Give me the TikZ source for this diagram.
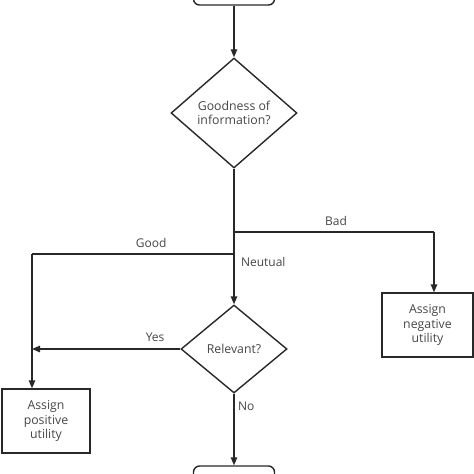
\documentclass[tikz,border=0pt]{standalone}
\usepackage{fontspec}
\setmainfont{Open Sans}
\usepackage{tikz}
\usetikzlibrary{
  arrows.meta,
  positioning,
  shapes.geometric,
}
\tikzstyle{arrow} = [
  -{Triangle[length=8pt, width=6.5pt]},
  line width=1.4pt,
  draw=linegray,
]
\definecolor{linegray}{RGB}{40, 40, 40}
\definecolor{textgray}{RGB}{70, 70, 70}

\begin{document}
\begin{tikzpicture}[x=1pt, y=-1pt,
    font=\fontsize{12.3}{14.3}\selectfont, text=textgray,
    box/.style={draw=linegray, line width=1.4pt, align=center, inner sep=0pt},
    decision/.style={box, diamond},
    terminal/.style={box, rounded corners=6pt,
                     minimum width=81pt, minimum height=28pt},
    label/.style={font=\fontsize{12}{14}\selectfont}]
      \useasboundingbox (0,0) rectangle (474,474);

      \node [terminal] (start) at (234,-9) {};

      \node [decision, minimum width=126pt, minimum height=110pt]
            (goodness) at (234,113) {Goodness of\\information?};

      \node [decision, minimum width=106pt, minimum height=88pt]
            (relevant) at (234,349) {Relevant?};

      \node [box, minimum width=91pt, minimum height=64pt]
            (negative) at (427.5,325) {Assign\\negative\\utility};

      \node [box, minimum width=88pt, minimum height=64pt]
            (positive) at (46,421) {Assign\\positive\\utility};

      \node [terminal] (stop) at (234,480) {};

      % branch points on the main line
      \coordinate (badturn) at (234,232);
      \coordinate (badcorner) at (434,232);
      \coordinate (goodturn) at (234,254);
      \coordinate (goodcorner) at (32,254);

      \draw [arrow] (start) -- (goodness);
      \draw [arrow] (goodness) -- node [label, right, pos=0.69, xshift=3pt] {Neutual} (relevant);

      \draw [arrow, -] (badturn) -- node [label, above, pos=0.51, yshift=2pt] {Bad} (badcorner);
      \draw [arrow] (badcorner) -- (badcorner |- negative.north);

      \draw [arrow, -] (goodturn) -- node [label, above, pos=0.41, yshift=2pt] {Good} (goodcorner);
      \draw [arrow] (goodcorner) -- (goodcorner |- positive.north);

      \draw [arrow] (relevant.west) -- node [label, above, pos=0.17, yshift=3pt] {Yes}
            (relevant.west -| goodcorner);
      \draw [arrow] (relevant) -- node [label, right, pos=0.18, xshift=0pt] {No} (stop);
    \end{tikzpicture}
\end{document}
